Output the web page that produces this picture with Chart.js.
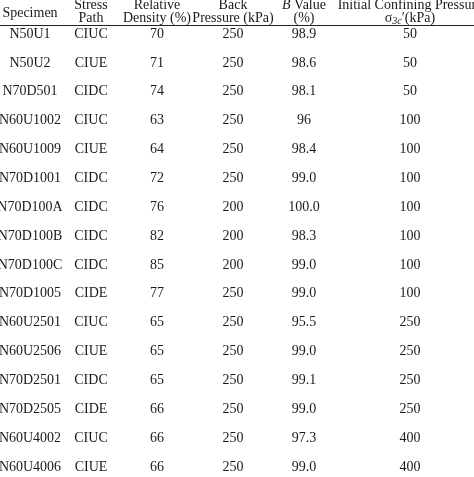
<!DOCTYPE html>
<html><head><meta charset="utf-8">
<script src="https://cdn.jsdelivr.net/npm/chart.js@4"></script>
<style>html,body{margin:0;padding:0;background:#fff}#wrap{width:474px;height:477px}</style>
</head><body><div id="wrap"><canvas id="c"></canvas></div>
<script>
const specimens = ['N50U1','N50U2','N70D501','N60U1002','N60U1009','N70D1001','N70D100A','N70D100B','N70D100C','N70D1005','N60U2501','N60U2506','N70D2501','N70D2505','N60U4002','N60U4006']
const stressPath = ['CIUC','CIUE','CIDC','CIUC','CIUE','CIDC','CIDC','CIDC','CIDC','CIDE','CIUC','CIUE','CIDC','CIDE','CIUC','CIUE']
const relDensity = ['70','71','74','63','64','72','76','82','85','77','65','65','65','66','66','66']
const backPressure = ['250','250','250','250','250','250','200','200','200','250','250','250','250','250','250','250']
const bValue = ['98.9','98.6','98.1','96','98.4','99.0','100.0','98.3','99.0','99.0','95.5','99.0','99.1','99.0','97.3','99.0']
const confining = ['50','50','50','100','100','100','100','100','100','100','250','250','250','250','400','400']

const colX = [30, 91, 157, 233, 304, 410]
const columns = [specimens, stressPath, relDensity, backPressure, bValue, confining]
const F = '14px "Liberation Serif"'
const FI = 'italic 14px "Liberation Serif"'

const tablePlugin = {
  id: 'table',
  afterDraw(chart) {
    const ctx = chart.ctx
    const y = chart.scales.y
    ctx.save()
    ctx.fillStyle = '#1a1a1a'
    ctx.textAlign = 'center'
    ctx.textBaseline = 'middle'
    ctx.font = F
    specimens.forEach((s, i) => {
      const py = y.getPixelForValue(i)
      columns.forEach((col, c) => ctx.fillText(col[i], colX[c], py))
    })
    // header
    const h1 = 5, h2 = 18
    ctx.fillText('Specimen', colX[0], 13)
    ctx.fillText('Stress', colX[1], h1); ctx.fillText('Path', colX[1], h2)
    ctx.fillText('Relative', colX[2], h1); ctx.fillText('Density (%)', colX[2], h2)
    ctx.fillText('Back', colX[3], h1); ctx.fillText('Pressure (kPa)', colX[3], h2)
    ctx.font = FI
    const bw = ctx.measureText('B').width
    ctx.font = F
    const vw = ctx.measureText(' Value').width
    ctx.textAlign = 'left'
    const bx = colX[4] - (bw + vw) / 2
    ctx.font = FI
    ctx.fillText('B', bx, h1)
    ctx.font = F
    ctx.fillText(' Value', bx + bw, h1)
    ctx.textAlign = 'center'
    ctx.fillText('(%)', colX[4], h2)
    ctx.fillText('Initial Confining Pressure', colX[5], h1)
    const a = 'σ', sub = '3c', rest = '\u2032(kPa)'
    const wA = ctx.measureText(a).width, wR = ctx.measureText(rest).width
    ctx.font = 'italic 10px "Liberation Serif"'
    const wS = ctx.measureText(sub).width
    const sx = colX[5] - (wA + wS + wR) / 2
    ctx.textAlign = 'left'
    ctx.font = F
    ctx.fillText(a, sx, h2)
    ctx.font = 'italic 10px "Liberation Serif"'
    ctx.fillText(sub, sx + wA, h2 + 3)
    ctx.font = F
    ctx.fillText(rest, sx + wA + wS, h2)
    ctx.strokeStyle = '#222'
    ctx.lineWidth = 1.2
    ctx.beginPath(); ctx.moveTo(0, 25.5); ctx.lineTo(474, 25.5); ctx.stroke()
    ctx.restore()
  }
}

new Chart(document.getElementById('c'), {
  type: 'scatter',
  data: { datasets: [{ data: specimens.map((s, i) => ({ x: 0, y: i })), pointRadius: 0 }] },
  options: {
    responsive: true, maintainAspectRatio: false, animation: false,
    layout: { padding: { top: 34, bottom: 10, left: 0, right: 0 } },
    plugins: { legend: { display: false }, tooltip: { enabled: false } },
    scales: {
      x: { display: false, min: 0, max: 1 },
      y: { display: false, reverse: true, min: 0, max: specimens.length - 1 }
    }
  },
  plugins: [tablePlugin]
})
</script></body></html>
